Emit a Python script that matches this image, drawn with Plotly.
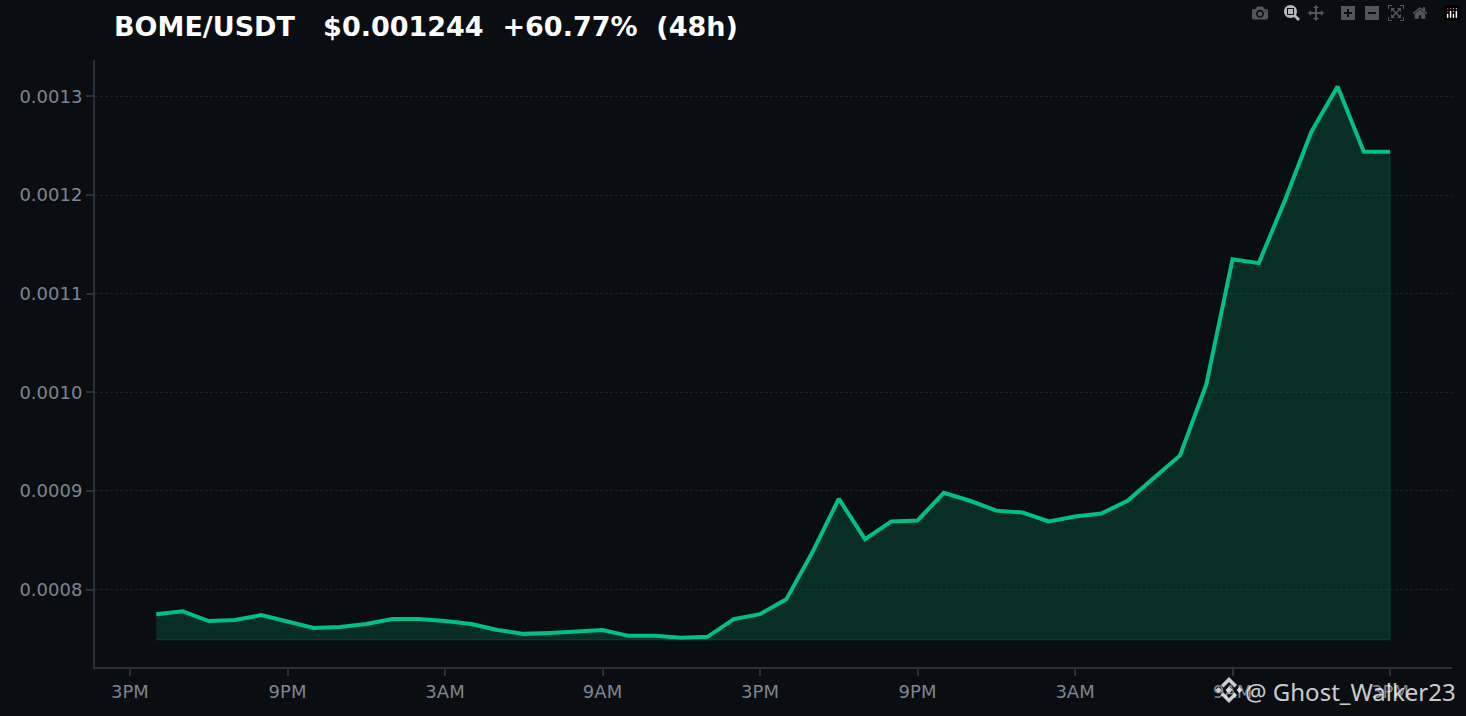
import plotly.graph_objects as go

# precio cada hora, horas contadas desde las 3PM
horas = list(range(1, 49))
precios = [
    0.000775, 0.000778, 0.000768, 0.000769, 0.000774, 0.000767, 0.000761, 0.000762,
    0.000765, 0.000770, 0.000770, 0.000768, 0.000765, 0.000759, 0.000755, 0.000756,
    0.000758, 0.000759, 0.000753, 0.000753, 0.000751, 0.000752, 0.000770, 0.000775,
    0.000790, 0.000838, 0.000892, 0.000851, 0.000869, 0.000870, 0.000898, 0.000890,
    0.000880, 0.000878, 0.000869, 0.000874, 0.000877, 0.000890, 0.000913, 0.000936,
    0.001008, 0.001135, 0.001131, 0.001195, 0.001264, 0.001310, 0.001244, 0.001244,
]
base = 0.000749

x_ticks = [0, 6, 12, 18, 24, 30, 36, 42, 48]
x_labels = ["3PM", "9PM", "3AM", "9AM", "3PM", "9PM", "3AM", "9AM", "3PM"]
y_ticks = [0.0008, 0.0009, 0.0010, 0.0011, 0.0012, 0.0013]
y_labels = ["0.0008", "0.0009", "0.0010", "0.0011", "0.0012", "0.0013"]

FONDO = "#0a0e12"
VERDE = "#00c087"
EJE = "#2b3139"
TEXTO = "#7d8590"
MARCA = "rgba(255,255,255,0.8)"

fig = go.Figure()

# area bajo la curva
fig.add_trace(go.Scatter(
    x=horas + horas[::-1],
    y=precios + [base] * len(horas),
    mode="lines",
    fill="toself",
    fillcolor="rgba(0,192,135,0.18)",
    line=dict(color="rgba(0,192,135,0.22)", width=1),
    hoverinfo="skip",
))
fig.add_trace(go.Scatter(x=horas, y=precios, mode="lines", line=dict(color=VERDE, width=4)))

fig.update_layout(
    width=1466,
    height=716,
    autosize=False,
    showlegend=False,
    paper_bgcolor=FONDO,
    plot_bgcolor=FONDO,
    margin=dict(l=95, r=14, t=60, b=49),
    font=dict(family="DejaVu Sans", color=TEXTO, size=18),
    title=dict(
        text="<b>BOME/USDT   $0.001244  +60.77%  (48h)</b>",
        font=dict(family="DejaVu Sans", size=27, color="#ffffff"),
        x=114 / 1466,
        xanchor="left",
        y=1 - 27 / 716,
        yanchor="middle",
    ),
)

fig.update_xaxes(
    range=[-1.333, 50.36],
    tickmode="array",
    tickvals=x_ticks,
    ticktext=x_labels,
    showgrid=False,
    zeroline=False,
    showline=True,
    linecolor=EJE,
    linewidth=2,
    ticks="outside",
    tickcolor=EJE,
    tickwidth=2,
    ticklen=7,
    tickfont=dict(color=TEXTO, size=18),
)
fig.update_yaxes(
    range=[0.0007214, 0.001337],
    tickmode="array",
    tickvals=y_ticks,
    ticktext=y_labels,
    showgrid=True,
    gridcolor="#1c2127",
    griddash="3px,2px",
    gridwidth=1,
    zeroline=False,
    showline=True,
    linecolor=EJE,
    linewidth=2,
    ticks="outside",
    tickcolor=EJE,
    tickwidth=2,
    ticklen=7,
    tickfont=dict(color=TEXTO, size=18),
)

# marca de agua
fig.add_annotation(
    text="@ Ghost_Walker23",
    xref="paper", yref="paper",
    x=(1458 - 95) / (1466 - 95 - 14),
    y=-(691 - 667) / (716 - 60 - 49),
    xanchor="right",
    yanchor="middle",
    showarrow=False,
    font=dict(family="Noto Sans", size=24, color=MARCA),
)


def px_x(px):
    return (px - 95) / (1466 - 95 - 14)


def px_y(px):
    return (667 - px) / (716 - 60 - 49)


def poligono(puntos):
    camino = " L".join(f"{px_x(a)},{px_y(b)}" for a, b in puntos)
    return dict(
        type="path",
        xref="paper", yref="paper",
        path=f"M{camino} Z",
        fillcolor=MARCA,
        line=dict(width=0),
        layer="above",
    )


def rombo(cx, cy, r):
    return poligono([(cx - r, cy), (cx, cy - r), (cx + r, cy), (cx, cy + r)])


def chevron(cx, cy, signo):
    # signo -1 arriba, +1 abajo
    return poligono([
        (cx, cy + signo * 13),
        (cx + 8, cy + signo * 5),
        (cx + 5.5, cy + signo * 2.5),
        (cx, cy + signo * 8),
        (cx - 5.5, cy + signo * 2.5),
        (cx - 8, cy + signo * 5),
    ])


fig.add_shape(rombo(1229, 690, 3.5))
fig.add_shape(rombo(1218.5, 690, 3))
fig.add_shape(rombo(1239.5, 690, 3))
fig.add_shape(chevron(1229, 690, -1))
fig.add_shape(chevron(1229, 690, 1))

# sin el margen del body la figura queda pegada a la esquina
fig.write_html("out.html", post_script="document.body.style.margin='0';")
